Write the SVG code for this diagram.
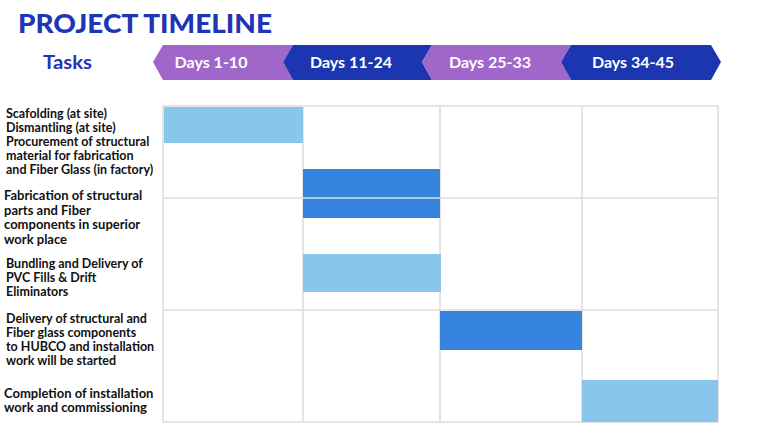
<svg xmlns="http://www.w3.org/2000/svg" width="768" height="433" viewBox="0 0 768 433">
<style>
.title{font-family:Lato,"Open Sans",sans-serif;font-weight:900;font-size:27px;fill:#1E35B5}
.tasks{font-family:Lato,"Open Sans",sans-serif;font-weight:700;font-size:18px;fill:#1E35B5}
.hdr{font-family:Lato,"Open Sans",sans-serif;font-weight:700;font-size:16px;fill:#FFFFFF;text-anchor:middle}
.lbl{font-family:Lato,"Open Sans",sans-serif;font-weight:700;font-size:12.5px;fill:#111111}
.lbl2{font-family:Lato,"Open Sans",sans-serif;font-weight:700;font-size:13px;fill:#111111}
.grid{stroke:#DDDDDD;stroke-width:1.5;fill:none}
.light{fill:#88C6EC}
.dark{fill:#3684E0}
.purple{fill:#A066C9}
.navy{fill:#1C35B0}
</style>
<rect width="768" height="433" fill="#FFFFFF"/>
<g id="title"><text class="title" x="18" y="33" textLength="254" lengthAdjust="spacingAndGlyphs">PROJECT TIMELINE</text></g>
<g id="tasks-header"><text class="tasks" x="43" y="69" textLength="49" lengthAdjust="spacingAndGlyphs">Tasks</text></g>
<g id="header-days">
<g id="hdr1"><path class="purple" d="M153,62 L163,45 L293,45 L283,62 L293,80 L163,80 Z"/><text class="hdr" x="211" y="68">Days 1-10</text></g>
<g id="hdr2"><path class="navy" d="M283,62 L293,45 L432,45 L422,62 L432,80 L293,80 Z"/><text class="hdr" x="351" y="68">Days 11-24</text></g>
<g id="hdr3"><path class="purple" d="M422,62 L432,45 L571,45 L561,62 L571,80 L432,80 Z"/><text class="hdr" x="490" y="68">Days 25-33</text></g>
<g id="hdr4"><path class="navy" d="M561,62 L571,45 L711,45 L721,62 L711,80 L571,80 Z"/><text class="hdr" x="633" y="68">Days 34-45</text></g>
</g>
<g id="grid">
<rect class="grid" x="163" y="106" width="555" height="316"/>
<line class="grid" x1="303" y1="106" x2="303" y2="422"/>
<line class="grid" x1="440" y1="106" x2="440" y2="422"/>
<line class="grid" x1="582" y1="106" x2="582" y2="422"/>
<line class="grid" x1="163" y1="198" x2="718" y2="198"/>
<line class="grid" x1="163" y1="310" x2="718" y2="310"/>
</g>
<g id="bars">
<rect id="bar1" class="light" x="164" y="107" width="139" height="36"/>
<rect id="bar2" class="dark" x="303" y="169" width="137" height="49"/>
<line class="grid" x1="303" y1="198" x2="440" y2="198"/>
<rect id="bar3" class="light" x="303" y="254" width="138" height="38"/>
<rect id="bar4" class="dark" x="440" y="311" width="142" height="39"/>
<rect id="bar5" class="light" x="582" y="380" width="136" height="42"/>
</g>
<g id="task1">
<text class="lbl" x="6" y="118">Scafolding (at site)</text>
<text class="lbl" x="6" y="132">Dismantling (at site)</text>
<text class="lbl" x="6" y="146">Procurement of structural</text>
<text class="lbl" x="6" y="160">material for fabrication</text>
<text class="lbl" x="6" y="174">and Fiber Glass (in factory)</text>
</g>
<g id="task2">
<text class="lbl2" x="4" y="200">Fabrication of structural</text>
<text class="lbl2" x="4" y="214.5">parts and Fiber</text>
<text class="lbl2" x="4" y="229">components in superior</text>
<text class="lbl2" x="4" y="243.5">work place</text>
</g>
<g id="task3">
<text class="lbl" x="6" y="268">Bundling and Delivery of</text>
<text class="lbl" x="6" y="282">PVC Fills &amp; Drift</text>
<text class="lbl" x="6" y="296">Eliminators</text>
</g>
<g id="task4">
<text class="lbl" x="6" y="323">Delivery of structural and</text>
<text class="lbl" x="6" y="337">Fiber glass components</text>
<text class="lbl" x="6" y="351">to HUBCO and installation</text>
<text class="lbl" x="6" y="365">work will be started</text>
</g>
<g id="task5">
<text class="lbl2" x="4" y="397.5">Completion of installation</text>
<text class="lbl2" x="4" y="412">work and commissioning</text>
</g>
</svg>
